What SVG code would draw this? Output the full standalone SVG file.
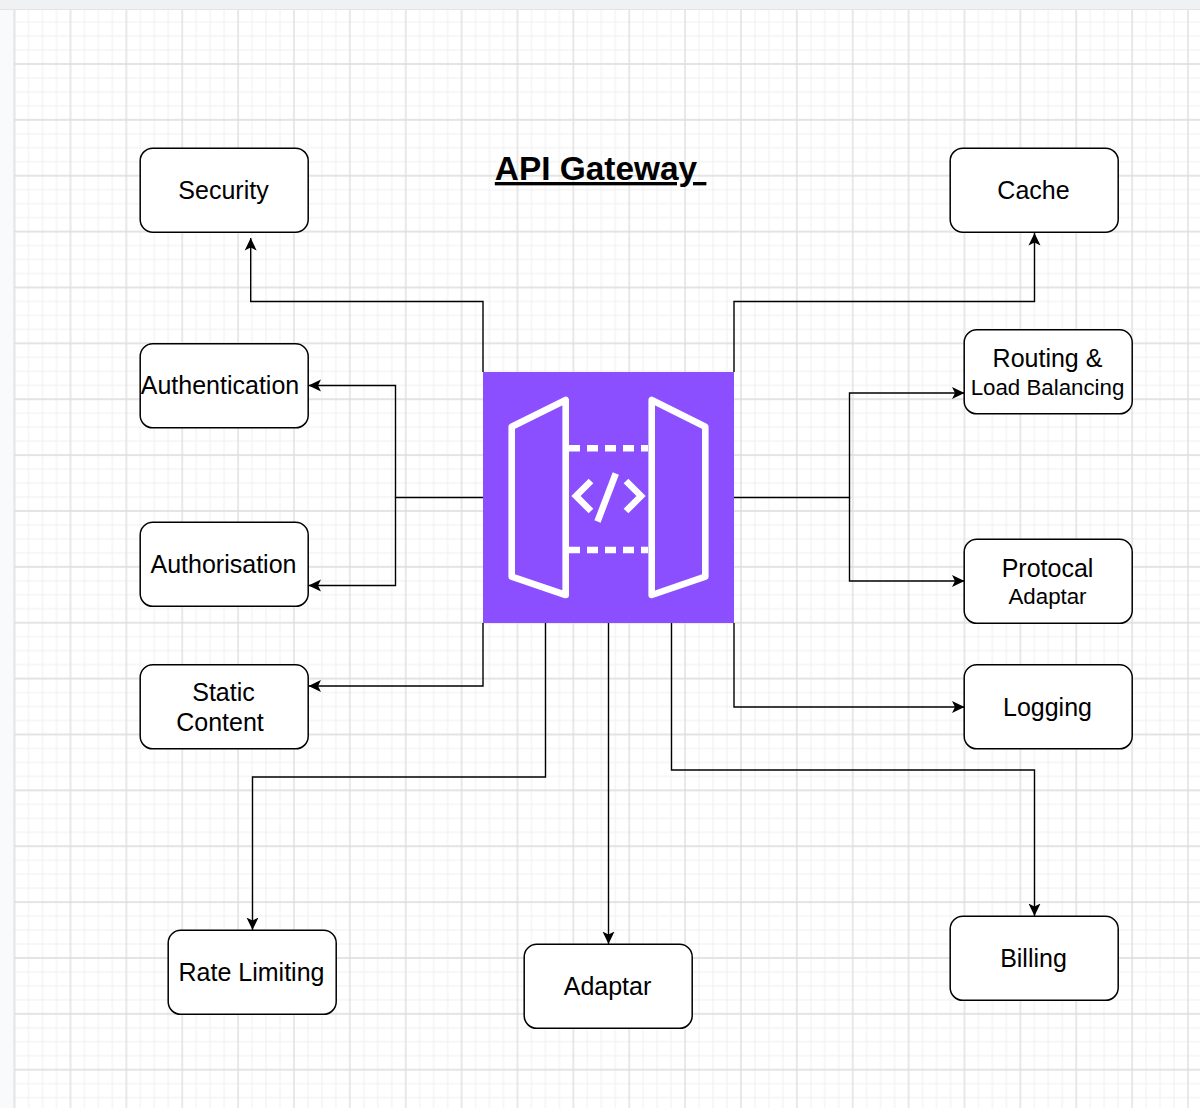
<svg xmlns="http://www.w3.org/2000/svg" width="1200" height="1108" viewBox="0 0 1200 1108">
<style>
text{font-family:"Liberation Sans",Arial,sans-serif;fill:#000;text-anchor:middle}
.t{font-size:25px}.s{font-size:22.3px}
.b{fill:#fff;stroke:#000;stroke-width:1.5}
.c{fill:none;stroke:#000;stroke-width:1.4;marker-end:url(#a)}
.i{fill:none;stroke:#fff;stroke-width:6.6;stroke-linejoin:round}
</style>
<defs>
<marker id="a" markerUnits="userSpaceOnUse" markerWidth="15" markerHeight="14" refX="12.500" refY="6.500" orient="auto"><path d="M0 0.500L12.500 6.500L0 12.500L3 6.500Z" fill="#000"/></marker>
<pattern id="g" patternUnits="userSpaceOnUse" x="12.600" y="6.100" width="55.875" height="55.875">
<path d="M15.970 0V55.875M29.940 0V55.875M43.900 0V55.875M0 15.970H55.875M0 29.940H55.875M0 43.900H55.875" fill="none" stroke="#efefef" stroke-width="1"/>
<path d="M2 0V55.875M0 2H55.875" fill="none" stroke="#dcdcdc" stroke-width="1.300"/>
</pattern>
</defs>
<rect width="1200" height="1108" fill="#fff"/>
<g id="canvas">
<rect x="14" y="9" width="1186" height="1099" fill="url(#g)"/>
<rect x="0" y="9" width="14" height="1099" fill="#f9fafb"/>
<rect x="0" y="0" width="1200" height="9" fill="#eff1f3"/>
<path d="M0 9.500H1200M14 9V1108" fill="none" stroke="#e2e4e6" stroke-width="1.200"/>
</g>
<g id="connectors">
<path class="c" d="M483 372V301.500H250.700V238"/>
<path class="c" d="M734 372V301.500H1034.500V233"/>
<path class="c" d="M483 497.500H395.500V385.500H308.500"/>
<path class="c" d="M395.500 497.500V585.500H308.500"/>
<path class="c" d="M483 623V686H308.500"/>
<path class="c" d="M734 497.500H849.500V393H964.500"/>
<path class="c" d="M849.500 497.500V581H964.500"/>
<path class="c" d="M734 623V707H964.500"/>
<path class="c" d="M545.500 623V777H252.500V930"/>
<path class="c" d="M608.500 623V944"/>
<path class="c" d="M671.500 623V770H1034.500V916"/>
</g>
<g id="gateway">
<rect x="483" y="372" width="251" height="251" fill="#8c4fff"/>
<path class="i" d="M511.700 426.700L565.700 400V595L511.700 576.700Z"/>
<path class="i" d="M705.300 426.700L651.700 400V595L705.300 576.700Z"/>
<path d="M569 448.300H580M587 448.300H598M605 448.300H616M623 448.300H634M641 448.300H648M569 550H580M587 550H598M605 550H616M623 550H634M641 550H648" fill="none" stroke="#fff" stroke-width="6.600"/>
<path class="i" style="stroke-linejoin:miter" d="M591 481L576 496L591 511M626 481L641 496L626 511M615.800 473.500L597.500 521.500"/>
</g>
<g id="title"><text x="600.600" y="180" style="font-size:33.400px;font-weight:bold;text-decoration:underline;white-space:pre" xml:space="preserve">API Gateway </text></g>
<g id="security"><rect class="b" x="140.200" y="148.200" width="168" height="84" rx="12.600"/><text class="t" x="223.500" y="199">Security</text></g>
<g id="authentication"><rect class="b" x="140.200" y="343.800" width="168" height="84" rx="12.600"/><text class="t" x="220" y="394">Authentication</text></g>
<g id="authorisation"><rect class="b" x="140.200" y="522.300" width="168" height="84" rx="12.600"/><text class="t" x="223.500" y="573">Authorisation</text></g>
<g id="static-content"><rect class="b" x="140.200" y="664.800" width="168" height="84" rx="12.600"/><text class="t" x="223.500" y="701">Static</text><text class="t" x="220" y="731">Content</text></g>
<g id="cache"><rect class="b" x="950.200" y="148.200" width="168" height="84" rx="12.600"/><text class="t" x="1033.500" y="199">Cache</text></g>
<g id="routing"><rect class="b" x="964.200" y="329.800" width="168" height="84" rx="12.600"/><text class="t" x="1047.500" y="367">Routing &amp;</text><text class="s" x="1047.500" y="394.500">Load Balancing</text></g>
<g id="protocal"><rect class="b" x="964.200" y="539.300" width="168" height="84" rx="12.600"/><text class="t" x="1047.500" y="576.500">Protocal</text><text class="s" x="1047.500" y="604">Adaptar</text></g>
<g id="logging"><rect class="b" x="964.200" y="664.800" width="168" height="84" rx="12.600"/><text class="t" x="1047.500" y="716">Logging</text></g>
<g id="rate-limiting"><rect class="b" x="168.200" y="930.300" width="168" height="84" rx="12.600"/><text class="t" x="251.500" y="981">Rate Limiting</text></g>
<g id="adaptar"><rect class="b" x="524.200" y="944.300" width="168" height="84" rx="12.600"/><text class="t" x="607.500" y="995">Adaptar</text></g>
<g id="billing"><rect class="b" x="950.200" y="916.300" width="168" height="84" rx="12.600"/><text class="t" x="1033.500" y="967">Billing</text></g>
</svg>
